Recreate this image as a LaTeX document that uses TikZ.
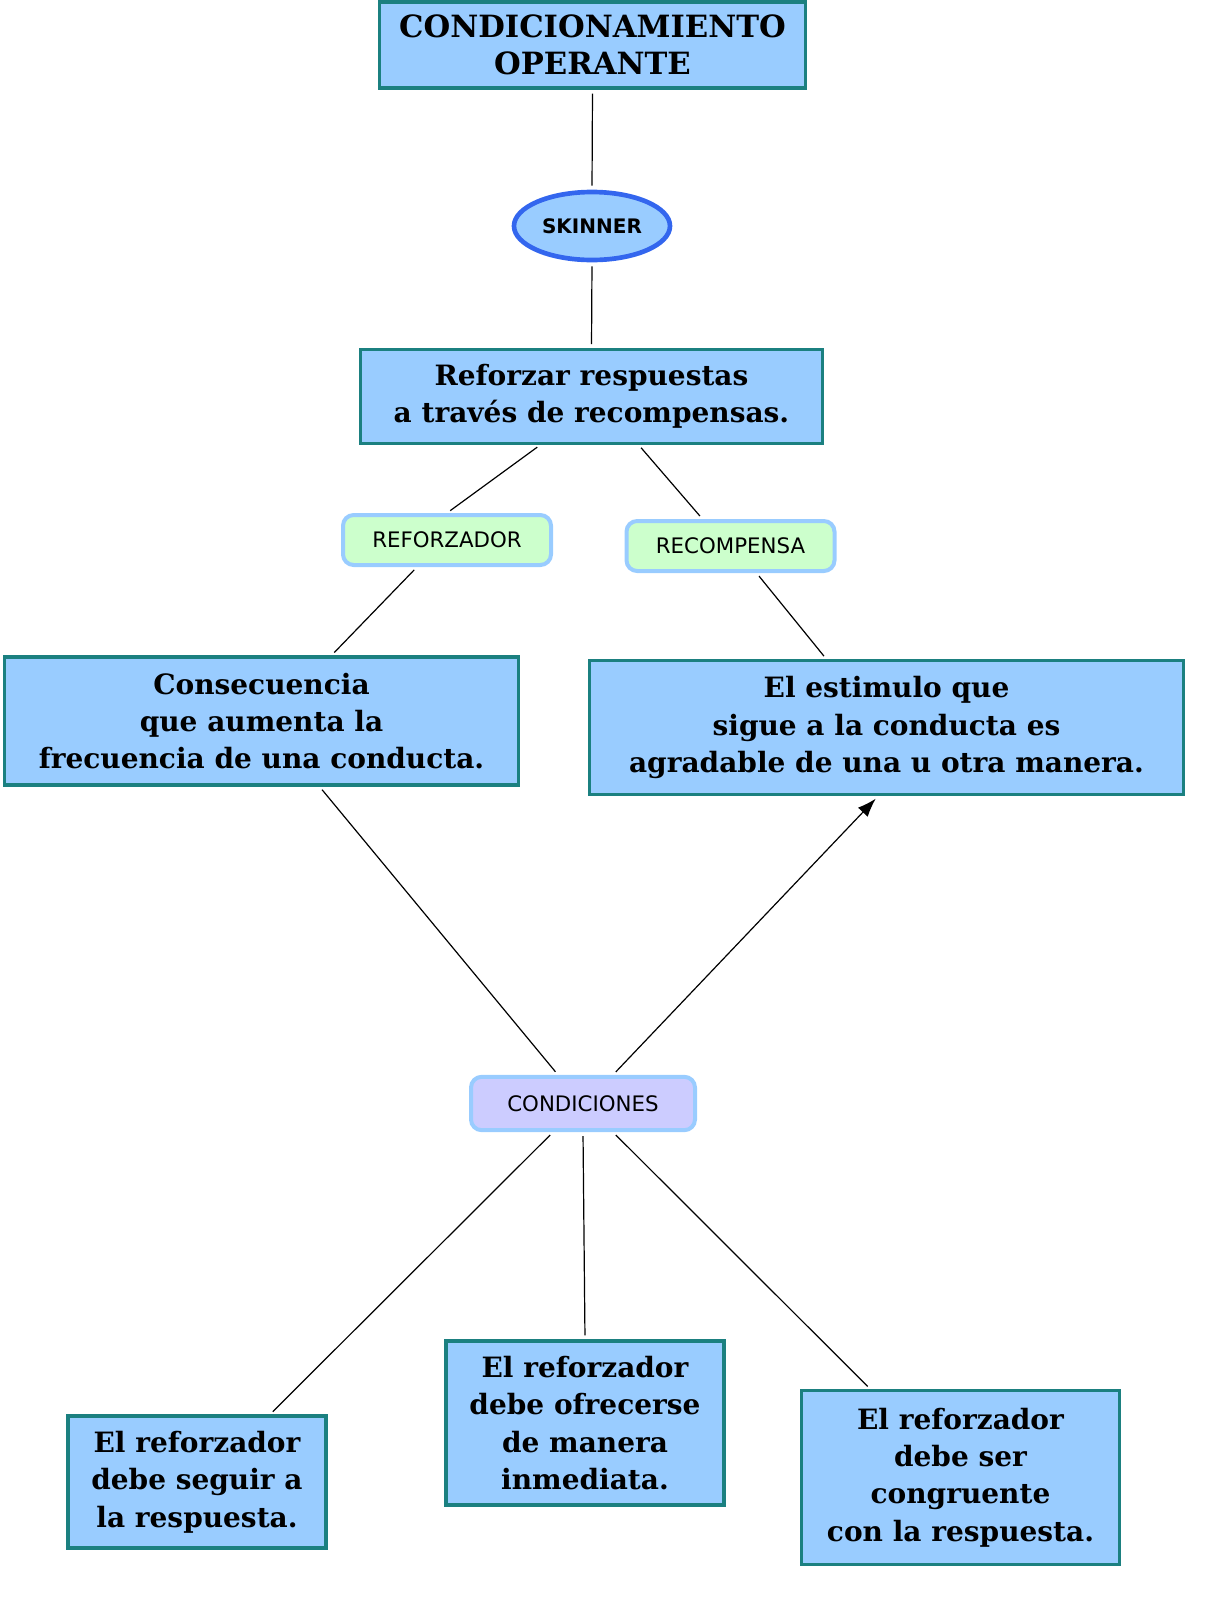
\documentclass[tikz,border=0pt]{standalone}
\usepackage{fontspec}
\setmainfont{DejaVu Serif}
\newfontfamily\lab{DejaVu Sans}
\usetikzlibrary{shapes.geometric,arrows.meta,calc}
\definecolor{bfill}{HTML}{99CCFF}
\definecolor{teal2}{HTML}{1B8080}
\definecolor{gfill}{HTML}{CCFFCC}
\definecolor{lfill}{HTML}{CCCCFF}
\definecolor{lborder}{HTML}{99CCFF}
\definecolor{sk}{HTML}{3366EE}
\begin{document}
\begin{tikzpicture}[x=0.75pt,y=-0.75pt,
 box/.style={draw=teal2,line width=2.4pt,fill=bfill,align=center,font=\fontsize{21}{28}\selectfont\bfseries,inner sep=0pt},
 lbl/.style={draw=lborder,line width=3pt,rounded corners=8pt,align=center,font=\lab\fontsize{16}{19}\selectfont,inner sep=0pt},
 ln/.style={line width=0.9pt,shorten <=3pt,shorten >=3pt}]
\useasboundingbox (0,0) rectangle (1209,1600);
\node[box,minimum width=319.5pt,minimum height=64.5pt,font=\fontsize{23}{28}\selectfont\bfseries] (t) at (592.5,45) {CONDICIONAMIENTO\\OPERANTE};
\node[ellipse,draw=sk,line width=3.5pt,fill=bfill,minimum width=117pt,minimum height=51pt,inner sep=0pt,font=\lab\fontsize{15}{18}\selectfont\bfseries] (s) at (592,226) {SKINNER};
\node[box,minimum width=347pt,minimum height=70pt] (r) at (591.5,396.5) {Reforzar respuestas\\a través de recompensas.};
\node[lbl,fill=gfill,minimum width=156pt,minimum height=37.5pt] (rf) at (447,540) {REFORZADOR};
\node[lbl,fill=gfill,minimum width=156pt,minimum height=37.5pt] (rc) at (730.5,546) {RECOMPENSA};
\node[box,minimum width=386pt,minimum height=96pt] (c) at (261.5,721) {Consecuencia\\que aumenta la\\frecuencia de una conducta.};
\node[box,minimum width=445pt,minimum height=100pt] (e) at (886.5,727.5) {El estimulo que\\sigue a la conducta es\\agradable de una u otra manera.};
\node[lbl,fill=lfill,minimum width=168pt,minimum height=40pt] (co) at (583,1103.5) {CONDICIONES};
\node[box,minimum width=193.5pt,minimum height=99pt] (b1) at (197,1482) {El reforzador\\debe seguir a\\la respuesta.};
\node[box,minimum width=208.5pt,minimum height=123pt] (b2) at (585,1423) {El reforzador\\debe ofrecerse\\de manera\\inmediata.};
\node[box,minimum width=238pt,minimum height=130pt] (b3) at (960.5,1477.5) {El reforzador\\debe ser\\congruente\\con la respuesta.};
\draw[ln] (t.south) -- (s.north);
\draw[ln] (s.south) -- (r.north);
\draw[ln] ($(r.south)+(-51,0)$) -- (rf.north);
\draw[ln] ($(rf.south)+(-30,0)$) -- ($(c.north)+(70,0)$);
\draw[ln] ($(r.south)+(47,0)$) -- ($(rc.north)+(-28,0)$);
\draw[ln] ($(rc.south)+(26,0)$) -- ($(e.north)+(-60,0)$);
\draw[ln] ($(c.south)+(58,0)$) -- ($(co.north)+(-25,0)$);
\draw[ln,-{Latex[length=14pt,width=10pt]}] ($(co.north)+(30,0)$) -- ($(e.south)+(-8,0)$);
\draw[ln] ($(co.south)+(-30,0)$) -- ($(b1.north)+(73,0)$);
\draw[ln] (co.south) -- (b2.north);
\draw[ln] ($(co.south)+(30,0)$) -- ($(b3.north)+(-90,0)$);
\end{tikzpicture}
\end{document}
